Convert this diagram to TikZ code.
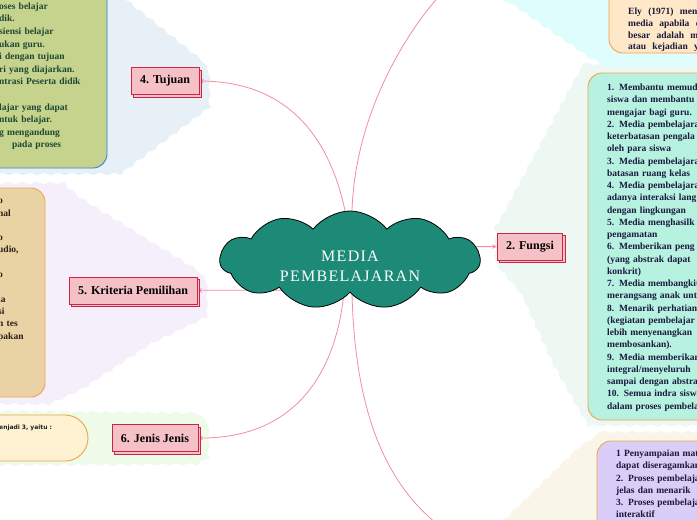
\documentclass[tikz,border=0pt]{standalone}
\usepackage{fontspec}
\usepackage{xcolor}
\usetikzlibrary{arrows.meta}
\usetikzlibrary{shapes.symbols}
\usetikzlibrary{shadows}
\usetikzlibrary{decorations.pathmorphing}
\newfontfamily\notesans{DejaVu Sans}
\newfontfamily\notefont{Liberation Serif}
\definecolor{linkpink}{HTML}{F38E9C}
\definecolor{topicpink}{HTML}{F5C1C6}
\definecolor{topicred}{HTML}{CC2447}
\definecolor{hubteal}{HTML}{1D8A77}
\definecolor{tujuanbg}{HTML}{E7F0F6}
\definecolor{kriteriabg}{HTML}{F5EFFC}
\definecolor{jenisbg}{HTML}{EEFBE8}
\definecolor{fungsibg}{HTML}{EEF8F3}
\definecolor{elybg}{HTML}{E0FDFD}
\definecolor{prosesbg}{HTML}{F9F5E9}
\definecolor{tujuanfill}{HTML}{C5D38D}
\definecolor{tujuanline}{HTML}{3D7FD6}
\definecolor{kriteriafill}{HTML}{E9D3A5}
\definecolor{jenisfill}{HTML}{FEF2D3}
\definecolor{fungsifill}{HTML}{B7F2E0}
\definecolor{elyfill}{HTML}{FEE8C8}
\definecolor{prosesfill}{HTML}{DACDF7}
\definecolor{boxorange}{HTML}{F2A24C}
\pgfdeclarelayer{blobs}
\pgfdeclarelayer{links}
\pgfsetlayers{blobs,links,main}

\begin{document}
\begin{tikzpicture}[x=1pt,y=-1pt,
    topic/.style={draw=topicred,fill=topicpink,line width=0.9pt,minimum height=27pt,
        inner xsep=9pt,font=\notefont\bfseries\fontsize{12}{14}\selectfont,
        copy shadow={shadow xshift=2.5pt,shadow yshift=-2.5pt}},
    hub/.style={cloud,cloud puffs=11,cloud puff arc=105,aspect=2.7,fill=hubteal,draw=black,
        line width=0.8pt,text=white,align=center,minimum width=260pt,minimum height=96pt,
        inner sep=0pt,font=\notefont\fontsize{16}{20}\selectfont\addfontfeature{LetterSpace=8}},
    notebox/.style={line width=0.9pt,rounded corners=14pt},
    notetext/.style={anchor=north west,inner sep=0pt,align=left,text width=150pt,
        font=\notefont\bfseries\fontsize{9.5}{12.25}\selectfont},
    link/.style={linkpink,line width=0.8pt},
    blob/.style={decorate,decoration={snake,amplitude=1.2pt,segment length=14pt}},
    tip/.style={-{Stealth[length=4.5pt,width=4.5pt]}}]
\useasboundingbox (0,0) rectangle (697,520);

\begin{pgfonlayer}{blobs}
    \fill[white] (0,0) rectangle (697,520);
    \fill[blob,tujuanbg] (-10,-10) -- (112,-10) -- (200,60) -- (206,70) -- (206,108) -- (118,174) -- (-10,174) -- cycle;
    \fill[blob,kriteriabg] (-10,183) -- (62,183) -- (78,198) -- (198,272) -- (206,282) -- (206,315) -- (150,342) -- (80,388) -- (45,404) -- (-10,404) -- cycle;
    \fill[blob,jenisbg] (-10,411) -- (195,413) -- (205,423) -- (205,460) -- (195,465) -- (-10,466) -- cycle;
    \fill[blob,fungsibg] (583,64) -- (710,64) -- (710,428) -- (583,428) -- (550,370) -- (517,297) -- (493,268) -- (493,232) -- (500,220) -- cycle;
    \fill[blob,elybg] (490,-10) -- (710,-10) -- (710,62) -- (600,62) -- (580,52) -- cycle;
    \fill[blob,prosesbg] (600,432) -- (710,432) -- (710,530) -- (488,530) -- (567,453) -- cycle;
\end{pgfonlayer}

% kotak keterangan
\draw[notebox,fill=tujuanfill,draw=tujuanline] (-30,-20) rectangle (107,168);
\draw[notebox,fill=kriteriafill,draw=boxorange] (-30,188) rectangle (45,397);
\draw[notebox,rounded corners=23pt,fill=jenisfill,draw=boxorange] (-30,415) rectangle (88,461);
\draw[notebox,fill=fungsifill,draw=boxorange] (588,73) rectangle (730,420);
\draw[notebox,fill=elyfill,draw=boxorange] (609,-20) rectangle (730,53);
\draw[notebox,fill=prosesfill,draw=boxorange] (597,441) rectangle (730,540);

\node[notetext,text={rgb,255:red,30;green,72;blue,52},font=\notefont\bfseries\fontsize{9.5}{12.6}\selectfont] (tujuannote) at (-1,0.2) {\strut oses belajar\\dik.\\siensi belajar\\ukan guru.\\i dengan tujuan\\ri yang diajarkan.\\ntrasi Peserta didik\\\strut\\lajar yang dapat\\ntuk belajar.\\g mengandung\\\hspace*{13pt}pada proses};
\node[notetext,text={rgb,255:red,40;green,30;blue,20},font=\notefont\bfseries\fontsize{9.5}{12.3}\selectfont] (kriterianote) at (-2,194.9) {\strut o\\nal\\\strut\\o\\udio,\\\strut\\o\\\strut\\ia\\si\\n tes\\pakan};
\node[notetext,text={rgb,255:red,34;green,34;blue,34},font=\notesans\bfseries\fontsize{6}{8}\selectfont] (jenisnote) at (-1,423.5) {\strut enjadi 3, yaitu :};
\node[notetext,text={rgb,255:red,26;green,25;blue,62}] (fungsinote) at (607,81.9) {\strut 1. Membantu memud\\siswa dan membantu\\mengajar bagi guru.\\2. Media pembelajara\\keterbatasan pengala\\oleh para siswa\\3. Media pembelajara\\batasan ruang kelas\\4. Media pembelajara\\adanya interaksi lang\\dengan lingkungan\\5. Media menghasilk\\pengamatan\\6. Memberikan peng\\(yang abstrak dapat\\konkrit)\\7. Media membangkit\\merangsang anak unt\\8. Menarik perhatian\\(kegiatan pembelajar\\lebih menyenangkan\\membosankan).\\9. Media memberikan\\integral/menyeluruh\\sampai dengan abstra\\10. Semua indra siswa\\dalam proses pembela};
\node[notetext,text={rgb,255:red,26;green,25;blue,62},font=\notefont\bfseries\fontsize{9.5}{11.8}\selectfont] (elynote) at (628,6) {\strut Ely\ \ (1971)\ \ meng\\media\ \ apabila\ \ d\\besar\ \ adalah\ \ ma\\atau\ \ kejadian\ \ ya};
\node[notetext,text={rgb,255:red,30;green,24;blue,60},font=\notefont\bfseries\fontsize{9.5}{12.2}\selectfont] (prosesnote) at (616,447.9) {\strut 1 Penyampaian mat\\dapat diseragamkan\\2. Proses pembelaja\\jelas dan menarik\\3. Proses pembelaja\\interaktif};

% topik
\node[hub] (hub) at (350,260) {\rule{0pt}{24pt}MEDIA\\PEMBELAJARAN};
\node[topic] (tujuan) at (165,81) {4. Tujuan};
\node[topic] (kriteria) at (133,290.5) {5. Kriteria Pemilihan};
\node[topic] (jenis) at (155,438) {6. Jenis Jenis};
\node[topic] (fungsi) at (530,246.5) {2. Fungsi};
\coordinate (upout) at (440,-5);
\coordinate (downout) at (445,530);

\begin{pgfonlayer}{links}
    \draw[link,tip] ([yshift=13pt]hub.center) -- (fungsi);
    \draw[link,tip] ([yshift=-30pt]hub.center) -- (kriteria);
    \draw[link,tip] ([xshift=-5pt]hub.north) .. controls (330,140) and (290,82) .. (tujuan.east);
    \draw[link] ([xshift=2pt]hub.north) .. controls (355,120) and (400,40) .. (upout);
    \draw[link,tip] ([xshift=-6pt]hub.south) .. controls (335,380) and (290,438) .. (jenis.east);
    \draw[link] ([xshift=2pt]hub.south) .. controls (355,420) and (390,490) .. (downout);
\end{pgfonlayer}
\end{tikzpicture}
\end{document}
